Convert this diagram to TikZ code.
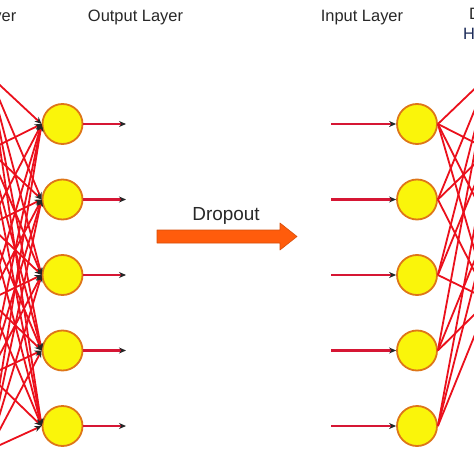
\documentclass[tikz,border=0pt]{standalone}
\usepackage{fontspec}
\setmainfont{Liberation Sans}
\usetikzlibrary{arrows.meta}
\definecolor{meshred}{RGB}{235,16,28}
\definecolor{iored}{RGB}{214,22,52}
\definecolor{nodefill}{RGB}{250,245,10}
\definecolor{nodeedge}{RGB}{222,118,24}
\definecolor{arroworange}{RGB}{255,92,12}
\definecolor{arrowedge}{RGB}{214,78,10}
\definecolor{labelgray}{RGB}{40,40,40}
\begin{document}
\begin{tikzpicture}[x=1bp,y=-1bp,
  neuron/.style={circle,draw=nodeedge,fill=nodefill,line width=1.8bp,minimum size=40bp,inner sep=0},
  mesh/.style={draw=meshred,line width=1.8bp},
  meshtip/.style={mesh,-{Stealth[length=7bp,width=6bp,color=black!85]}},
  ioarrow/.style={draw=iored,line width=2.3bp,-{Stealth[length=7bp,width=6bp,color=black!85]}},
  lbl/.style={font=\fontsize{16.5}{19}\selectfont,text=labelgray,inner sep=0}]
\useasboundingbox (0,0) rectangle (474,474);
\clip (0,0) rectangle (474,474);
\fill[white] (0,0) rectangle (474,474);

\foreach \k/\yy in {1/124,2/199.5,3/275,4/350.5,5/426} {
  \node[neuron] (o\k) at (62.5,\yy) {};
  \node[neuron] (i\k) at (417,\yy) {};
  \coordinate (oe\k) at (126,\yy);
  \coordinate (is\k) at (331,\yy);
}
\foreach \k/\yy in {1/75,2/150,3/225,4/300,5/375,6/450} {
  \coordinate (hl\k) at (-11,\yy);
  \coordinate (hr\k) at (489,\yy);
}

% left panel: fully connected hidden -> output
\foreach \h in {1,...,6} {
  \foreach \o in {1,...,5} {
    \draw[meshtip] (hl\h) -- (o\o.west);
  }
}
% right panel: input -> dropout hidden (some connections dropped)
\foreach \i/\h in {1/1,1/2,1/3,1/4,2/1,2/2,2/4,3/1,3/2,3/4,4/1,4/3,4/4,5/2,5/3,5/4} {
  \draw[mesh] (i\i.east) -- (hr\h);
}
% output and input arrows
\foreach \k in {1,...,5} {
  \draw[ioarrow] (o\k.east) -- (oe\k);
  \draw[ioarrow] (is\k) -- (i\k.west);
}

% dropout arrow
\draw[fill=arroworange,draw=arrowedge,line width=0.6bp,line join=round]
  (157,230) -- (280,230) -- (280,223) -- (297,236.5) -- (280,250) -- (280,243) -- (157,243) -- cycle;
\node[font=\fontsize{19}{22}\selectfont,text=labelgray,inner sep=0,anchor=base] (dropout) at (226,221) {Dropout};

% labels
\node[lbl,anchor=base] (outlbl) at (135.5,22) {Output Layer};
\node[lbl,anchor=base] (inlbl) at (362,22) {Input Layer};
\node[lbl,anchor=base east] (hidlbl) at (16.5,22) {Hidden Layer};
\node[lbl,anchor=base west] (droplbl) at (469,20) {Dropout};
\node[lbl,anchor=base west,text={rgb,255:red,30;green,45;blue,90}] (dhidlbl) at (463,40) {Hidden Layer};
\end{tikzpicture}
\end{document}
